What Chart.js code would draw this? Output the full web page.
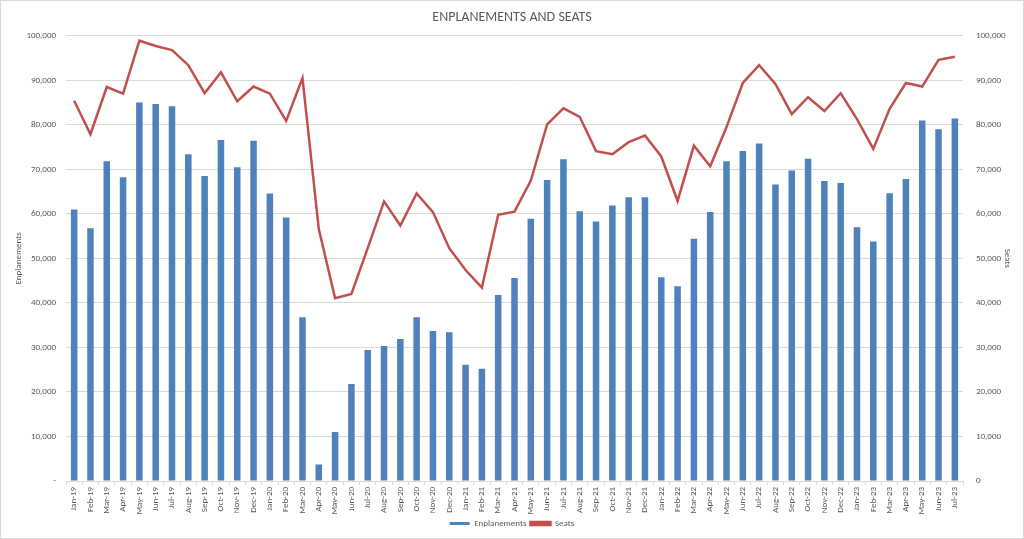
<!DOCTYPE html>
<html>
<head>
<meta charset="utf-8">
<script src="https://cdn.jsdelivr.net/npm/chart.js@4.4.0/dist/chart.umd.min.js"></script>
<style>
  html, body { margin: 0; padding: 0; background: #fff; }
  #wrap { position: relative; width: 1024px; height: 539px; box-sizing: border-box; border: 1px solid #d9d9d9; }
</style>
</head>
<body>
<div id="wrap"><canvas id="chart"></canvas></div>
<script>
// --- Data ---
const months = [
  'Jan-19','Feb-19','Mar-19','Apr-19','May-19','Jun-19','Jul-19','Aug-19','Sep-19','Oct-19','Nov-19','Dec-19',
  'Jan-20','Feb-20','Mar-20','Apr-20','May-20','Jun-20','Jul-20','Aug-20','Sep-20','Oct-20','Nov-20','Dec-20',
  'Jan-21','Feb-21','Mar-21','Apr-21','May-21','Jun-21','Jul-21','Aug-21','Sep-21','Oct-21','Nov-21','Dec-21',
  'Jan-22','Feb-22','Mar-22','Apr-22','May-22','Jun-22','Jul-22','Aug-22','Sep-22','Oct-22','Nov-22','Dec-22',
  'Jan-23','Feb-23','Mar-23','Apr-23','May-23','Jun-23','Jul-23'
];

const enplanements = [
  61000, 56800, 71800, 68200, 85000, 84700, 84200, 73400, 68500, 76600, 70500, 76400,
  64600, 59200, 36800, 3700, 11000, 21800, 29400, 30300, 31900, 36800, 33700, 33400,
  26100, 25200, 41800, 45600, 58900, 67600, 72250, 60600, 58270, 61870, 63750, 63750,
  45790, 43760, 54400, 60450, 71800, 74130, 75800, 66610, 69770, 72400, 67360, 66910,
  56980, 53820, 64650, 67810, 80980, 79020, 81430
];

const seats = [
  85400, 77900, 88500, 87000, 98900, 97700, 96800, 93400, 87100, 91800, 85300, 88600,
  87000, 80900, 90500, 56600, 41050, 42000, 52300, 62800, 57400, 64600, 60400, 52300,
  47400, 43450, 59800, 60500, 67500, 80100, 83700, 81800, 74100, 73400, 76100, 77600,
  72900, 62900, 75300, 70700, 79500, 89400, 93400, 89200, 82400, 86200, 83100, 87100,
  81300, 74600, 83600, 89400, 88600, 94600, 95300
];

const yTicks = [0, 10000, 20000, 30000, 40000, 50000, 60000, 70000, 80000, 90000, 100000];

// --- Styles ---
const FONT = 'Carlito, Calibri, "Liberation Sans Narrow", "DejaVu Sans Condensed", sans-serif';
const TEXT = '#595959';
const GRID = '#d9d9d9';

const fmt = v => v.toLocaleString('en-US');

const ctx = document.getElementById('chart').getContext('2d');
new Chart(ctx, {
  data: {
    labels: months,
    datasets: [
      {
        type: 'bar',
        label: 'Enplanements',
        data: enplanements,
        yAxisID: 'y',
        backgroundColor: '#4f81bd',
        borderColor: '#4f81bd',
        borderWidth: 0,
        barPercentage: 0.4,
        categoryPercentage: 1.0,
        order: 2
      },
      {
        type: 'line',
        label: 'Seats',
        data: seats,
        yAxisID: 'y2',
        borderColor: '#c0504d',
        backgroundColor: '#c0504d',
        borderWidth: 2.5,
        pointRadius: 0,
        tension: 0,
        order: 1
      }
    ]
  },
  options: {
    responsive: true,
    maintainAspectRatio: false,
    animation: false,
    layout: { padding: { left: 0, right: 0, top: 0, bottom: 0 } },
    plugins: {
      title: {
        display: true,
        text: 'ENPLANEMENTS AND SEATS',
        color: TEXT,
        font: { family: FONT, size: 14, weight: 'normal' },
        padding: { top: 8, bottom: 10 }
      },
      legend: {
        display: true,
        position: 'bottom',
        labels: {
          color: TEXT,
          font: { family: FONT, size: 9 },
          boxWidth: 20,
          boxHeight: 3,
          padding: 4,
          sort: (a, b) => a.datasetIndex - b.datasetIndex
        }
      },
      tooltip: { enabled: false }
    },
    scales: {
      x: {
        grid: { display: true, offset: true, drawOnChartArea: false, color: GRID, tickLength: 4 },
        border: { display: true, color: GRID },
        ticks: {
          color: TEXT,
          font: { family: FONT, size: 9 },
          maxRotation: 90,
          minRotation: 90,
          autoSkip: false,
          padding: 2
        },
        afterFit: s => { s.height = 34; }
      },
      y: {
        position: 'left',
        min: 0,
        max: 100000,
        afterBuildTicks: s => { s.ticks = yTicks.map(v => ({ value: v })); },
        grid: { color: GRID, drawTicks: false },
        border: { display: false },
        ticks: {
          color: TEXT,
          font: { family: FONT, size: 9 },
          padding: 10,
          callback: v => v === 0 ? '-' : fmt(v)
        },
        title: {
          display: true,
          text: 'Enplanements',
          color: TEXT,
          font: { family: FONT, size: 9 },
          padding: { top: 12, bottom: 2 }
        },
        afterFit: s => { s.width = 65; }
      },
      y2: {
        position: 'right',
        min: 0,
        max: 100000,
        afterBuildTicks: s => { s.ticks = yTicks.map(v => ({ value: v })); },
        grid: { display: false },
        border: { display: false },
        ticks: {
          color: TEXT,
          font: { family: FONT, size: 9 },
          padding: 5,
          callback: v => fmt(v)
        },
        title: {
          display: true,
          text: 'Seats',
          color: TEXT,
          font: { family: FONT, size: 9 },
          padding: { top: 10, bottom: 0 }
        },
        afterFit: s => { s.width = 60; }
      }
    }
  }
});
</script>
</body>
</html>
